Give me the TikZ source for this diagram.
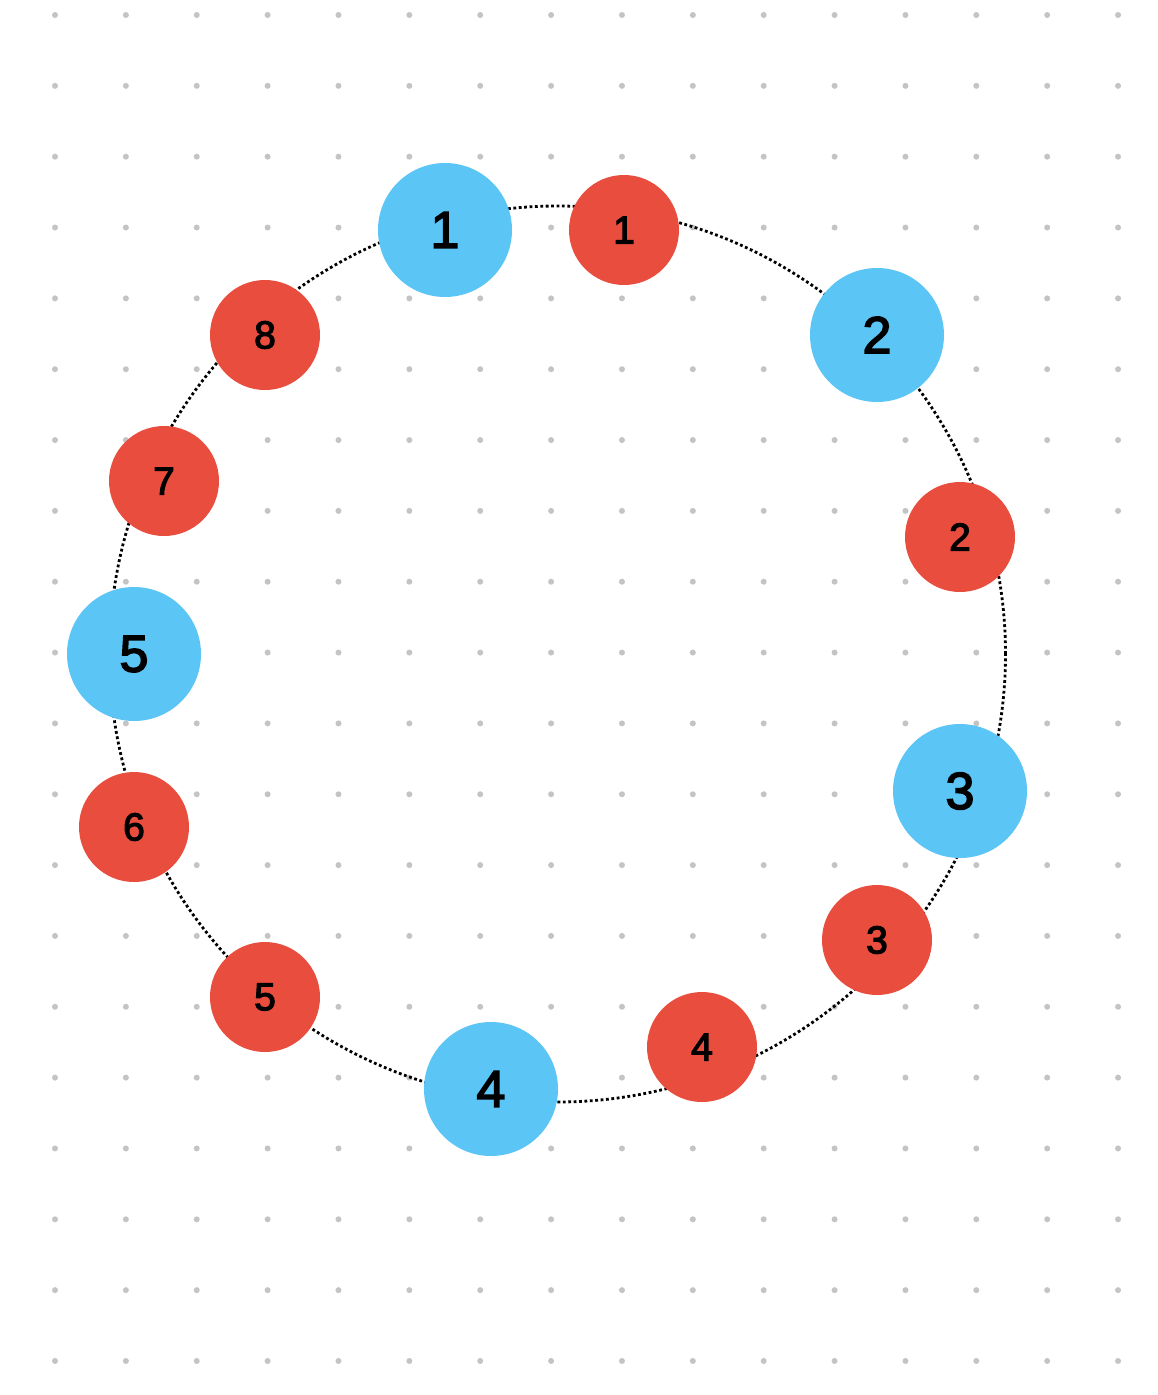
\documentclass[tikz,border=0pt]{standalone}
\usepackage{fontspec}
\setmainfont{Liberation Sans}[UprightFeatures={FakeBold=3}]
\definecolor{dotgray}{HTML}{C4C4C4}
\definecolor{bluec}{HTML}{5BC5F6}
\definecolor{redc}{HTML}{E84D3E}
\begin{document}
\begin{tikzpicture}[x=1pt,y=-1pt,
  gdot/.style={circle,fill=dotgray,inner sep=0pt,minimum size=6pt},
  ringline/.style={draw=black,line width=2.8pt,dash pattern=on 2.8pt off 2.6pt},
  bigball/.style={circle,fill=bluec,inner sep=0pt,minimum size=134pt,font=\fontsize{52}{52}\selectfont},
  smallball/.style={circle,fill=redc,inner sep=0pt,minimum size=110pt,font=\fontsize{39}{39}\selectfont}]
\useasboundingbox (0,0) rectangle (1158,1395);
\fill[white] (0,0) rectangle (1158,1395);
% dot grid
\foreach \i in {0,...,15}{
  \foreach \j in {0,...,19}{
    \node[gdot] (g-\i-\j) at ({55+70.87*\i},{15+70.84*\j}) {};
  }
}
% ring
\node[circle,ringline,inner sep=0pt,minimum size=896pt] (ring) at (557.5,654) {};
% blue nodes
\node[bigball] (b1) at (445,230) {1};
\node[bigball] (b2) at (877,335) {2};
\node[bigball] (b3) at (960,791) {3};
\node[bigball] (b4) at (491,1089) {4};
\node[bigball] (b5) at (134,654) {5};
% red nodes
\node[smallball] (r1) at (624,230) {1};
\node[smallball] (r2) at (960,537) {2};
\node[smallball] (r3) at (877,940) {3};
\node[smallball] (r4) at (702,1047) {4};
\node[smallball] (r5) at (265,997) {5};
\node[smallball] (r6) at (134,827) {6};
\node[smallball] (r7) at (164,481) {7};
\node[smallball] (r8) at (265,335) {8};
\end{tikzpicture}
\end{document}
